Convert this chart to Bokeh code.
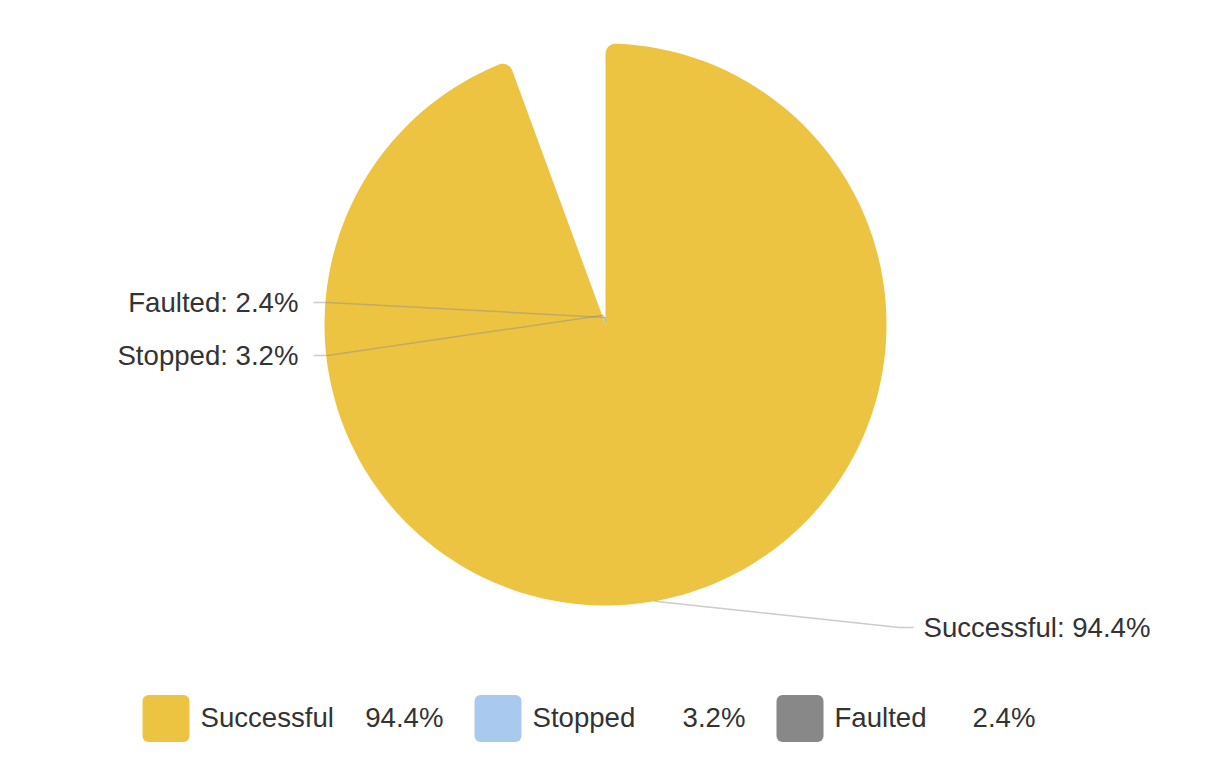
import numpy as np
from bokeh.plotting import figure
from bokeh.models import Range1d, BoxAnnotation
from bokeh.embed import file_html
from bokeh.resources import INLINE
from bokeh.core.properties import value

# ---- data ----
categories = ["Successful", "Stopped", "Faulted"]
percent = [94.4, 3.2, 2.4]
value_labels = ["94.4%", "3.2%", "2.4%"]
colors = ["#EDC441", "#A9C9EE", "#888888"]

# ---- layout (pixels, image coords) ----
W, H = 1212, 756
CX, CY_IMG, R = 605, 324, 281
CORNER = 10
FONT = value("Liberation Sans")
FS = "27.6px"
TXT = "#333333"
# label anchors: (x, y, align, leader end x)
label_pos = [(923, 627, "left", 913), (298, 355, "right", 313), (298, 302, "right", 313)]
legend_left = [142, 474, 776]
legend_val_right = [443, 745, 1035]
LEG_Y, LEG_SZ = 718, 47


def Y(yi):
    return 772 - yi


CY = Y(CY_IMG)

p = figure(width=W, height=H, x_range=Range1d(0, W), y_range=Range1d(772 - H, 772),
           output_backend="svg", toolbar_location=None, min_border=0,
           x_axis_type=None, y_axis_type=None)
p.grid.visible = False
p.outline_line_color = None
p.background_fill_color = "white"


def slice_path(a0, a1, r, rc):
    """a0, a1 clockwise degrees from top. returns xs, ys (data coords)."""
    t0 = np.radians(90 - a0)
    t1 = np.radians(90 - a1)
    rc = min(rc, r * 0.25)
    xs, ys = [CX], [CY]
    if rc > 0.5:
        d = r - rc
        phi = np.arcsin(rc / d)
        c0 = t0 - phi
        ccx, ccy = CX + d * np.cos(c0), CY + d * np.sin(c0)
        for a in np.linspace(t0 + np.pi / 2, c0, 12):
            xs.append(ccx + rc * np.cos(a)); ys.append(ccy + rc * np.sin(a))
        for a in np.linspace(c0, t1 + phi, 200):
            xs.append(CX + r * np.cos(a)); ys.append(CY + r * np.sin(a))
        c1 = t1 + phi
        ccx, ccy = CX + d * np.cos(c1), CY + d * np.sin(c1)
        for a in np.linspace(c1, t1 - np.pi / 2, 12):
            xs.append(ccx + rc * np.cos(a)); ys.append(ccy + rc * np.sin(a))
    else:
        for a in np.linspace(t0, t1, 40):
            xs.append(CX + r * np.cos(a)); ys.append(CY + r * np.sin(a))
    return list(xs), list(ys)


total = sum(percent)
vmax = max(percent)
angles = np.cumsum([0] + [v / total * 360 for v in percent])
XS, YS, mids, radii = [], [], [], []
for i, v in enumerate(percent):
    r = R * v / vmax
    xs, ys = slice_path(angles[i], angles[i + 1], r, CORNER)
    XS.append(xs); YS.append(ys)
    mids.append((angles[i] + angles[i + 1]) / 2)
    radii.append(r)

p.patches(XS, YS, fill_color=colors, line_color=None)

# leader lines and labels
for i, cat in enumerate(categories):
    m = np.radians(90 - mids[i])
    ex, ey = CX + radii[i] * np.cos(m), CY + radii[i] * np.sin(m)
    lx, ly, align, endx = label_pos[i]
    if align == "left":
        px = [ex, endx - 14, endx]
    else:
        px = [ex, endx + 14, endx]
    py = [ey, Y(ly), Y(ly)]
    p.line(px, py, line_color="#8c8c8c", line_alpha=0.45, line_width=1.5)
    p.text(x=[lx], y=[Y(ly)], text=[f"{cat}: {value_labels[i]}"], text_font=FONT,
           text_font_size=FS, text_color=TXT, text_align=align, text_baseline="middle")

# legend
for i, cat in enumerate(categories):
    l = legend_left[i]
    p.add_layout(BoxAnnotation(left=l, right=l + LEG_SZ, bottom=Y(LEG_Y + LEG_SZ / 2),
                               top=Y(LEG_Y - LEG_SZ / 2), fill_color=colors[i], fill_alpha=1.0,
                               line_color=None, border_radius=6, level="annotation"))
    p.text(x=[l + LEG_SZ + 11], y=[Y(LEG_Y - 1)], text=[cat], text_font=FONT, text_font_size=FS,
           text_color=TXT, text_align="left", text_baseline="middle")
    p.text(x=[legend_val_right[i]], y=[Y(LEG_Y - 1)], text=[value_labels[i]], text_font=FONT,
           text_font_size=FS, text_color=TXT, text_align="right", text_baseline="middle")

open("out.html", "w").write(file_html(p, INLINE))
